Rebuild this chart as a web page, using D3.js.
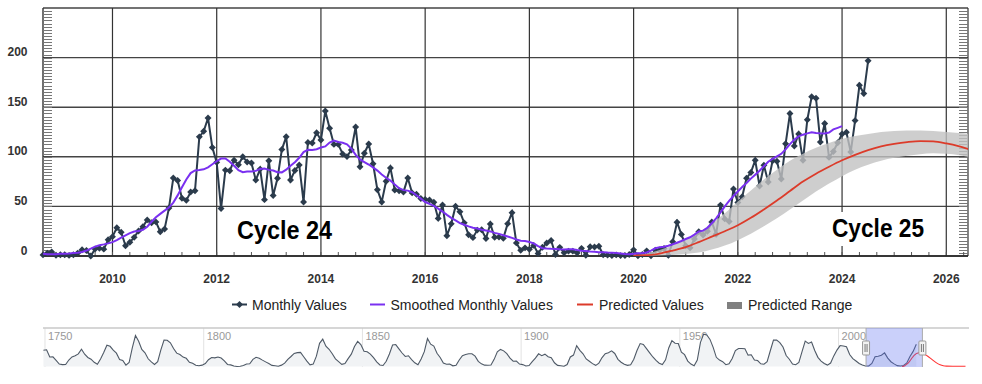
<!DOCTYPE html>
<html>
<head>
<meta charset="utf-8">
<script src="https://cdn.jsdelivr.net/npm/d3@7"></script>
<style>
  body { margin: 0; background: #fff; }
  text { font-family: "Liberation Sans", Arial, sans-serif; }
</style>
</head>
<body>
<div id="chart"></div>
<script>
// ---- data ----
// monthly sunspot numbers, first value = Sep 2008
var monthStart = 2008 + 8 / 12;
var monthlyValues = [
  1.1, 2.9, 4.1, 0.8,
  1.2, 1.3, 0.6, 1.2, 2.9, 6.3, 5.5, 0.0, 7.1, 7.7, 6.9, 16.3,
  19.5, 28.5, 24.0, 10.4, 13.9, 18.8, 25.2, 29.6, 36.4, 33.6, 34.4, 24.5,
  27.3, 48.3, 78.6, 76.1, 58.2, 56.1, 64.5, 65.8, 120.1, 125.7, 139.1, 109.3,
  94.4, 47.8, 86.6, 85.9, 96.5, 92.0, 100.1, 94.8, 93.7, 76.5, 87.6, 56.8,
  96.1, 60.9, 78.3, 107.3, 120.2, 76.7, 86.2, 91.8, 54.5, 114.4, 113.9, 124.2,
  117.0, 146.1, 128.7, 112.5, 112.5, 102.9, 100.2, 106.9, 130.0, 90.0, 103.6, 112.9,
  93.0, 66.7, 54.5, 75.3, 88.8, 66.5, 65.8, 64.4, 78.6, 63.6, 62.2, 58.0,
  57.0, 56.4, 54.1, 37.9, 51.5, 20.5, 32.4, 50.2, 44.6, 33.4, 21.4, 18.5,
  26.1, 26.4, 17.7, 32.3, 18.9, 19.2, 17.8, 32.6, 43.7, 13.2, 5.7, 8.2,
  6.8, 10.7, 2.5, 8.9, 13.1, 15.6, 1.6, 8.7, 3.3, 4.9, 4.9, 3.1,
  7.7, 0.8, 9.4, 9.1, 9.9, 1.2, 0.9, 0.5, 1.1, 0.4, 0.5, 1.5,
  6.2, 0.2, 1.5, 5.2, 0.2, 5.8, 6.1, 7.5, 0.6, 14.4, 34.0, 21.8,
  10.4, 8.2, 17.2, 24.5, 21.2, 25.0, 34.3, 22.0, 51.3, 37.4, 34.8, 67.6,
  54.0, 59.7, 78.5, 84.1, 96.5, 70.5, 91.4, 74.6, 96.0, 95.5, 77.6, 113.1,
  143.6, 110.9, 123.0, 96.4, 137.4, 160.5, 159.1, 114.8, 133.6, 99.4, 105.4, 114.2,
  123.0, 124.7, 104.9, 136.5, 172.1, 163.8, 196.8
];

// smoothed monthly values, first value = Sep 2008
var smoothedValues = [
  2.2, 1.8, 1.7, 1.8,
  2.2, 2.3, 2.6, 3.0, 3.3, 4.1, 5.5, 7.4, 9.5, 10.9, 11.7, 12.7,
  14.0, 16.1, 18.5, 20.8, 23.1, 24.6, 25.2, 26.4, 29.5, 34.5, 39.1, 42.5,
  45.7, 48.8, 53.8, 61.1, 69.3, 77.2, 83.6, 86.3, 86.6, 87.4, 89.4, 92.5,
  95.5, 98.2, 98.3, 95.1, 90.9, 86.6, 84.5, 85.1, 85.3, 85.8, 87.7, 88.1,
  86.8, 86.1, 84.4, 84.3, 87.0, 90.9, 94.6, 99.0, 104.7, 107.0, 106.9, 107.6,
  109.3, 110.5, 114.3, 116.4, 115.0, 114.1, 112.6, 108.3, 101.9, 97.3, 94.7, 92.2,
  89.3, 86.1, 82.2, 78.9, 76.1, 72.1, 68.3, 66.4, 65.9, 64.3, 61.2, 57.8,
  54.4, 52.5, 50.5, 47.8, 44.8, 41.5, 38.5, 36.0, 33.2, 31.5, 29.9, 28.5,
  27.8, 26.5, 25.7, 24.8, 23.3, 22.3, 21.0, 19.6, 18.3, 16.7, 15.4, 15.1,
  14.2, 12.6, 9.9, 7.9, 7.5, 7.2, 7.1, 6.7, 6.6, 6.8, 6.7, 6.0,
  5.4, 5.0, 4.6, 4.3, 3.9, 3.7, 3.5, 3.4, 3.1, 2.6, 2.0, 1.8,
  2.2, 2.7, 3.0, 3.6, 5.5, 7.8, 8.8, 9.3, 10.3, 11.8, 13.4, 15.1,
  17.1, 18.9, 21.6, 24.7, 25.6, 28.5, 33.0, 38.0, 44.0, 50.0, 55.5, 60.5,
  65.0, 69.5, 73.5, 78.0, 82.0, 86.0, 90.5, 95.0, 98.0, 100.5, 103.0, 107.5,
  112.8, 117.3, 120.6, 122.3, 123.6, 124.8, 124.0, 123.7, 123.5, 124.5, 127.6, 129.2,
  130.9
];

// predicted values and predicted range
var predYears = [2020.0, 2020.25, 2020.5, 2020.75, 2021.0, 2021.25, 2021.5, 2021.75,
  2022.0, 2022.25, 2022.5, 2022.75, 2023.0, 2023.25, 2023.5, 2023.75,
  2024.0, 2024.25, 2024.5, 2024.75, 2025.0, 2025.25, 2025.5, 2025.75,
  2026.0, 2026.25, 2026.5,
  2027, 2027.5, 2028, 2029, 2030, 2031, 2032, 2033, 2034, 2036, 2038, 2040];
var predValues = [0.5, 0.8, 2.5, 5.5, 9, 14, 19.5, 25,
  31, 38.5, 47, 56, 65.5, 75, 83, 90,
  96.5, 102, 106.8, 110.5, 113, 114.8, 115.8, 115.5,
  113.5, 110.5, 106.5,
  101, 95, 87, 68, 47, 28, 14, 6, 3, 2, 2, 2];
var rangeYears = predYears.slice(0, 27);
var rangeUpper = [1, 2.5, 6, 11, 17, 24, 33, 43,
  55, 66, 77, 87, 96, 103, 109, 114,
  118, 121, 123, 125, 126, 126.5, 126.5, 126,
  125, 124, 123];
var rangeLower = [0, 0, 0.5, 1, 2, 3.5, 6.5, 10.5,
  16, 22.5, 30, 38, 47, 56, 65, 73,
  80.5, 87, 92, 96, 99, 101, 102.5, 103.5,
  103, 101.5, 99];

// navigator: yearly record
var navYears = d3.range(1749, 2025);
var navValues = [
  134.7, 139.0, 79.5, 79.7, 51.2, 20.3, 16.0, 17.0, 54.0, 79.3, 90.0, 104.8, 143.2, 102.0, 75.2, 60.7,
  34.8, 19.0, 63.0, 116.3, 176.8, 168.0, 136.0, 110.8, 58.0, 51.0, 11.7, 33.0, 154.2, 257.3, 209.8, 141.3,
  113.5, 64.2, 38.0, 17.0, 40.2, 138.2, 220.0, 218.2, 196.8, 149.8, 111.0, 100.0, 78.2, 68.3, 35.5, 26.7,
  10.7, 6.8, 11.3, 24.2, 56.7, 75.0, 71.8, 79.2, 70.3, 46.8, 16.8, 13.5, 4.2, 0.0, 2.3, 8.3,
  20.3, 23.2, 59.0, 76.3, 68.3, 52.9, 38.5, 24.2, 9.2, 6.3, 2.2, 11.4, 28.2, 59.9, 83.0, 108.5,
  115.2, 117.4, 80.8, 44.3, 13.4, 19.5, 85.8, 192.7, 227.3, 168.7, 143.0, 105.5, 63.3, 40.3, 18.1, 25.1,
  65.8, 102.7, 166.3, 208.3, 182.5, 126.3, 122.0, 102.7, 74.1, 39.0, 12.7, 8.2, 43.4, 104.4, 178.3, 182.2,
  146.6, 112.1, 83.5, 89.2, 57.8, 30.7, 13.9, 62.8, 123.6, 232.0, 185.3, 169.2, 110.1, 74.5, 28.3, 18.9,
  20.7, 5.7, 10.0, 53.7, 90.5, 99.0, 106.1, 105.8, 86.3, 42.4, 21.8, 11.2, 10.4, 11.8, 59.5, 121.7,
  142.0, 130.0, 106.6, 69.4, 43.8, 44.4, 20.2, 15.7, 4.6, 8.5, 40.8, 70.1, 105.5, 90.1, 102.8, 80.9,
  73.2, 30.9, 9.5, 6.0, 2.4, 16.1, 79.0, 95.0, 173.6, 134.6, 105.7, 62.7, 43.5, 23.7, 9.7, 27.9,
  74.0, 106.5, 114.7, 129.7, 108.2, 59.4, 35.1, 18.6, 9.2, 14.6, 60.2, 132.8, 190.6, 182.6, 148.0, 113.0,
  79.2, 50.8, 27.1, 16.1, 55.3, 154.3, 214.7, 193.0, 190.7, 118.9, 98.3, 45.0, 20.1, 6.6, 54.2, 200.7,
  269.3, 261.7, 225.1, 159.0, 76.4, 53.4, 39.9, 15.0, 22.0, 66.8, 132.9, 150.0, 149.4, 148.0, 94.4, 97.6,
  54.1, 49.2, 22.5, 18.4, 39.3, 131.0, 220.1, 218.9, 198.9, 162.4, 91.0, 60.5, 20.6, 14.8, 33.9, 123.0,
  211.1, 191.8, 203.3, 133.0, 76.1, 44.9, 25.1, 11.6, 28.9, 88.3, 136.3, 173.9, 170.4, 163.6, 99.3, 65.3,
  45.8, 24.7, 12.6, 4.2, 4.8, 24.9, 80.8, 84.5, 94.0, 113.3, 69.8, 39.8, 21.7, 7.0, 3.6, 8.8,
  29.6, 83.2, 125.5, 185.0
];
var navTicks = [1750, 1800, 1850, 1900, 1950, 2000];

var yTicks = [0, 50, 100, 150, 200];
var xTicks = [2010, 2012, 2014, 2016, 2018, 2020, 2022, 2024, 2026];

var monthly = monthlyValues.map(function(v, i) { return {t: monthStart + i / 12, v: v}; });
var smoothed = smoothedValues.map(function(v, i) { return {t: monthStart + i / 12, v: v}; });
var predicted = predYears.map(function(t, i) { return {t: t, v: predValues[i]}; });
var range = rangeYears.map(function(t, i) { return {t: t, lo: rangeLower[i], hi: rangeUpper[i]}; });
var nav = navYears.map(function(y, i) { return {t: y + 0.5, v: navValues[i]}; });

var colMonthly = "#2b3b4c", colSmooth = "#7a30f0", colPred = "#dc3b2a";

// ---- layout ----
var W = 982, H = 384;
var plot = {left: 43, top: 8, right: 968, bottom: 256};

var svg = d3.select("#chart").append("svg")
  .attr("width", W).attr("height", H);

var x = d3.scaleLinear()
  .domain([monthStart, 2026 + 5 / 12])
  .range([plot.left, plot.right]);
var y = d3.scaleLinear()
  .domain([0, 250])
  .range([plot.bottom, plot.top]);

svg.append("defs").append("clipPath").attr("id", "clip")
  .append("rect")
    .attr("x", plot.left).attr("y", plot.top)
    .attr("width", plot.right - plot.left).attr("height", plot.bottom - plot.top);

// grid
var grid = svg.append("g");
grid.selectAll(".hg")
  .data([0, 50, 100, 150, 200, 250])
  .enter().append("line")
    .attr("x1", plot.left).attr("x2", plot.right)
    .attr("y1", function(d) { return y(d); }).attr("y2", function(d) { return y(d); })
    .attr("stroke", "#444").attr("stroke-width", 1.4);
grid.selectAll(".vg")
  .data(xTicks)
  .enter().append("line")
    .attr("x1", function(d) { return x(d); }).attr("x2", function(d) { return x(d); })
    .attr("y1", plot.top).attr("y2", plot.bottom)
    .attr("stroke", "#333").attr("stroke-width", 1.2);
grid.append("line")
  .attr("x1", plot.left).attr("x2", plot.left)
  .attr("y1", plot.top).attr("y2", plot.bottom)
  .attr("stroke", "#333").attr("stroke-width", 1.4);
grid.append("line")
  .attr("x1", plot.right).attr("x2", plot.right)
  .attr("y1", plot.top).attr("y2", plot.bottom)
  .attr("stroke", "#333").attr("stroke-width", 1.2);

// minor ticks on the y sides
var yMinor = d3.range(0, 250, 3.125);
grid.selectAll(".ymL")
  .data(yMinor)
  .enter().append("line")
    .attr("x1", plot.left).attr("x2", plot.left + 9)
    .attr("y1", function(d) { return Math.round(y(d)) + 0.5; })
    .attr("y2", function(d) { return Math.round(y(d)) + 0.5; })
    .attr("stroke", "#777").attr("stroke-width", 1);
grid.selectAll(".ymR")
  .data(yMinor)
  .enter().append("line")
    .attr("x1", plot.right - 9).attr("x2", plot.right)
    .attr("y1", function(d) { return Math.round(y(d)) + 0.5; })
    .attr("y2", function(d) { return Math.round(y(d)) + 0.5; })
    .attr("stroke", "#777").attr("stroke-width", 1);

// minor ticks on the x axis, every 4 months
var xMinor = d3.range(0, 214, 4).map(function(m) { return monthStart + m / 12; });
grid.selectAll(".xm")
  .data(xMinor)
  .enter().append("line")
    .attr("x1", function(d) { return x(d); }).attr("x2", function(d) { return x(d); })
    .attr("y1", plot.bottom - 4).attr("y2", plot.bottom)
    .attr("stroke", "#555").attr("stroke-width", 1);

grid.append("line")
  .attr("x1", plot.left).attr("x2", plot.right)
  .attr("y1", plot.bottom).attr("y2", plot.bottom)
  .attr("stroke", "#222").attr("stroke-width", 1.6);

// axis labels
svg.selectAll(".ylab")
  .data(yTicks)
  .enter().append("text")
    .attr("x", 27.5).attr("y", function(d) { return y(d) - 1.5; })
    .attr("text-anchor", "end")
    .attr("font-size", 12).attr("font-weight", "bold").attr("fill", "#333")
    .text(function(d) { return d; });
svg.selectAll(".xlab")
  .data(xTicks)
  .enter().append("text")
    .attr("x", function(d) { return x(d); }).attr("y", 283)
    .attr("text-anchor", "middle")
    .attr("font-size", 12).attr("font-weight", "bold").attr("fill", "#333")
    .text(function(d) { return d; });

// monthly values
var line = d3.line()
  .x(function(d) { return x(d.t); })
  .y(function(d) { return y(d.v); });

svg.append("path")
  .datum(monthly)
  .attr("fill", "none").attr("stroke", colMonthly).attr("stroke-width", 2)
  .attr("d", line);
svg.append("g").selectAll("path")
  .data(monthly)
  .enter().append("path")
    .attr("d", d3.symbol(d3.symbolSquare, 24))
    .attr("transform", function(d) { return "translate(" + x(d.t) + "," + y(d.v) + ") rotate(45)"; })
    .attr("fill", colMonthly);

// predicted range and values
var series = svg.append("g").attr("clip-path", "url(#clip)");
series.append("path")
  .datum(range)
  .attr("fill", "#c2c2c2").attr("opacity", 0.8)
  .attr("d", d3.area()
    .curve(d3.curveMonotoneX)
    .x(function(d) { return x(d.t); })
    .y0(function(d) { return y(d.lo); })
    .y1(function(d) { return y(d.hi); }));
series.append("path")
  .datum(predicted)
  .attr("fill", "none").attr("stroke", colPred).attr("stroke-width", 1.8)
  .attr("d", d3.line().curve(d3.curveMonotoneX)
    .x(function(d) { return x(d.t); })
    .y(function(d) { return y(d.v); }));

// smoothed
svg.append("path")
  .datum(smoothed)
  .attr("fill", "none").attr("stroke", colSmooth).attr("stroke-width", 2)
  .attr("d", line);

// cycle labels
svg.append("text")
  .attr("x", 237).attr("y", 238.5)
  .attr("font-size", 25).attr("font-weight", "bold").attr("fill", "#000")
  .attr("textLength", 95).attr("lengthAdjust", "spacingAndGlyphs")
  .text("Cycle 24");
svg.append("rect")
  .attr("x", 829).attr("y", 212).attr("width", 99).attr("height", 34)
  .attr("fill", "#fff");
svg.append("text")
  .attr("x", 832).attr("y", 237)
  .attr("font-size", 25).attr("font-weight", "bold").attr("fill", "#000")
  .attr("textLength", 92).attr("lengthAdjust", "spacingAndGlyphs")
  .text("Cycle 25");

// legend
var leg = svg.append("g");
var ly = 304.5;
leg.append("line").attr("x1", 232).attr("x2", 247).attr("y1", ly).attr("y2", ly)
  .attr("stroke", colMonthly).attr("stroke-width", 2);
leg.append("path").attr("d", d3.symbol(d3.symbolSquare, 24))
  .attr("transform", "translate(239.5," + ly + ") rotate(45)").attr("fill", colMonthly);
leg.append("line").attr("x1", 370).attr("x2", 385).attr("y1", ly).attr("y2", ly)
  .attr("stroke", colSmooth).attr("stroke-width", 2);
leg.append("line").attr("x1", 577).attr("x2", 593).attr("y1", ly).attr("y2", ly)
  .attr("stroke", colPred).attr("stroke-width", 2);
leg.append("rect").attr("x", 727).attr("y", 302).attr("width", 15).attr("height", 7)
  .attr("fill", "#808080");
var legText = [["Monthly Values", 252], ["Smoothed Monthly Values", 390.5],
               ["Predicted Values", 599], ["Predicted Range", 748]];
leg.selectAll("text")
  .data(legText)
  .enter().append("text")
    .attr("x", function(d) { return d[1]; }).attr("y", 310)
    .attr("font-size", 14).attr("fill", "#222")
    .text(function(d) { return d[0]; });

// ---- navigator ----
var nx = d3.scaleLinear().domain([1749.37, 2041.1]).range([43, 969]);
var ny = d3.scaleLinear().domain([0, 320]).range([366.5, 328]);
var navG = svg.append("g");

navG.selectAll(".ng")
  .data(navTicks)
  .enter().append("line")
    .attr("x1", function(d) { return nx(d); }).attr("x2", function(d) { return nx(d); })
    .attr("y1", 328).attr("y2", 367)
    .attr("stroke", "#e2e2e2").attr("stroke-width", 1);
navG.selectAll(".nl")
  .data(navTicks)
  .enter().append("text")
    .attr("x", function(d) { return nx(d) + 3; }).attr("y", 340)
    .attr("font-size", 11).attr("fill", "#999")
    .text(function(d) { return d; });

navG.append("path")
  .datum(nav)
  .attr("fill", "#f1f3f5")
  .attr("d", d3.area()
    .x(function(d) { return nx(d.t); })
    .y0(366.5)
    .y1(function(d) { return ny(d.v); }));
navG.append("path")
  .datum(nav)
  .attr("fill", "none").attr("stroke", "#4e5966").attr("stroke-width", 1.1)
  .attr("d", d3.line()
    .x(function(d) { return nx(d.t); })
    .y(function(d) { return ny(d.v); }));
navG.append("path")
  .datum(predicted)
  .attr("fill", "none").attr("stroke", "#f33").attr("stroke-width", 1.1)
  .attr("d", d3.line().curve(d3.curveMonotoneX)
    .x(function(d) { return nx(d.t); })
    .y(function(d) { return ny(d.v); }));

navG.append("line")
  .attr("x1", 43).attr("x2", 969).attr("y1", 328).attr("y2", 328)
  .attr("stroke", "#c8c8c8").attr("stroke-width", 1.5);

// selected range
var s0 = nx(x.domain()[0]), s1 = nx(x.domain()[1]);
navG.append("rect")
  .attr("x", s0).attr("y", 328).attr("width", s1 - s0).attr("height", 39)
  .attr("fill", "rgba(90,110,240,0.32)");
[s0, s1].forEach(function(sx) {
  navG.append("line")
    .attr("x1", sx).attr("x2", sx).attr("y1", 328).attr("y2", 367)
    .attr("stroke", "#aaa").attr("stroke-width", 1);
  navG.append("rect")
    .attr("x", sx - 3.5).attr("y", 341).attr("width", 7).attr("height", 14)
    .attr("fill", "#f2f2f2").attr("stroke", "#999").attr("rx", 1);
  navG.append("line")
    .attr("x1", sx - 1).attr("x2", sx - 1).attr("y1", 344).attr("y2", 352)
    .attr("stroke", "#777");
  navG.append("line")
    .attr("x1", sx + 1).attr("x2", sx + 1).attr("y1", 344).attr("y2", 352)
    .attr("stroke", "#777");
});
</script>
</body>
</html>
